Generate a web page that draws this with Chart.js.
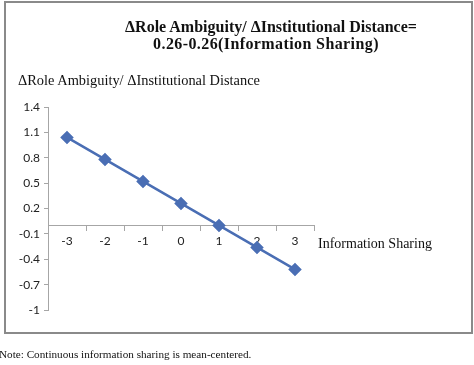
<!DOCTYPE html>
<html>
<head>
<meta charset="utf-8">
<script src="https://cdn.jsdelivr.net/npm/chart.js@4.4.1/dist/chart.umd.min.js"></script>
<style>
    html, body { margin: 0; padding: 0; background: #fff; }
    #wrap { position: relative; width: 474px; height: 365px; overflow: hidden; }
    #frame {
        position: absolute; left: 4px; top: 1px; width: 465px; height: 329px;
        border: 2px solid #8a8a8a; background: #fff;
    }
    #chart { position: absolute; left: 0; top: 0; }
    .title {
        position: absolute; text-align: center; white-space: nowrap;
        font-family: "Liberation Serif", serif; font-weight: bold; font-size: 16px;
        line-height: 17px; color: #111;
    }
    .t1 { left: 100px; width: 342px; top: 18px; }
    .t2 { left: 90px; width: 352px; top: 35px; letter-spacing: 0.4px; }
    .ylab {
        position: absolute; left: 18px; top: 72px;
        font-family: "Liberation Serif", serif; font-size: 14.4px; color: #111;
    }
    .note {
        position: absolute; left: -1px; top: 348px; white-space: nowrap;
        font-family: "Liberation Serif", serif; font-size: 11.2px; color: #111;
    }
</style>
</head>
<body>
<div id="wrap">
    <div id="frame"></div>
    <canvas id="chart" width="474" height="365"></canvas>
    <div class="title t1">ΔRole Ambiguity/ ΔInstitutional Distance=</div>
    <div class="title t2">0.26-0.26(Information Sharing)</div>
    <div class="ylab">ΔRole Ambiguity/ ΔInstitutional Distance</div>
    <div class="note">Note: Continuous information sharing is mean-centered.</div>
</div>
<script>
const categories = ["-3", "-2", "-1", "0", "1", "2", "3"];
const roleAmbiguity = [1.04, 0.78, 0.52, 0.26, 0.0, -0.26, -0.52];
const yTicks = [-1, -0.7, -0.4, -0.1, 0.2, 0.5, 0.8, 1.1, 1.4];

const lineColor = "#4A6EB4";
const axisColor = "#a6a6a6";

// "Information Sharing" sits to the right of the x axis line
const xAxisLabel = {
    id: "xAxisLabel",
    afterDraw(chart) {
        const ctx = chart.ctx;
        const x = chart.scales.x;
        const y0 = chart.scales.y.getPixelForValue(0);
        ctx.save();
        ctx.font = '14px "Liberation Serif", serif';
        ctx.fillStyle = "#111";
        ctx.textBaseline = "middle";
        ctx.fillText("Information Sharing", x.right + 4, y0 + 19);
        ctx.restore();
    }
};

new Chart(document.getElementById("chart"), {
    type: "line",
    data: {
        labels: categories,
        datasets: [{
            data: roleAmbiguity,
            borderColor: lineColor,
            backgroundColor: lineColor,
            borderWidth: 2.5,
            pointStyle: "rectRot",
            pointRadius: 5,
            pointBackgroundColor: lineColor,
            pointBorderColor: lineColor,
            tension: 0
        }]
    },
    options: {
        responsive: false,
        animation: false,
        layout: { padding: { left: 0, top: 107, right: 160, bottom: 55 } },
        plugins: { legend: { display: false }, tooltip: { enabled: false } },
        scales: {
            x: {
                type: "category",
                position: { y: 0 },
                offset: true,
                grid: {
                    offset: true,
                    drawOnChartArea: false,
                    drawTicks: true,
                    tickLength: 5,
                    color: axisColor
                },
                border: { color: axisColor, width: 1 },
                ticks: {
                    color: "#222",
                    padding: 4,
                    maxRotation: 0,
                    font: { family: "Lato", size: 12 }
                }
            },
            y: {
                min: -1,
                max: 1.4,
                afterBuildTicks(scale) {
                    scale.ticks = yTicks.map(v => ({ value: v }));
                },
                afterFit(scale) { scale.width = 48; },
                grid: {
                    drawOnChartArea: false,
                    drawTicks: true,
                    tickLength: 4,
                    color: axisColor
                },
                border: { color: axisColor, width: 1 },
                ticks: {
                    color: "#222",
                    padding: 4,
                    font: { family: "Lato", size: 12 },
                    callback: v => String(Math.round(v * 10) / 10)
                }
            }
        }
    },
    plugins: [xAxisLabel]
});
</script>
</body>
</html>
